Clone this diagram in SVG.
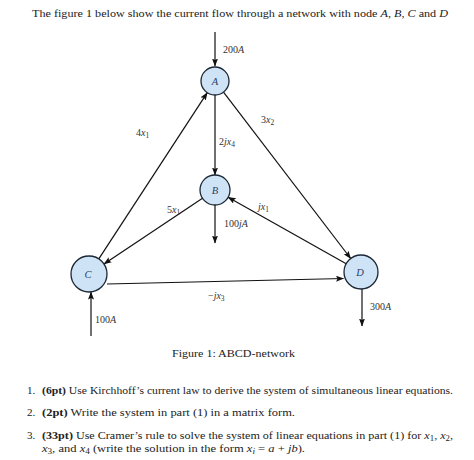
<svg xmlns="http://www.w3.org/2000/svg" width="474" height="460" viewBox="0 0 474 460">
<defs>
<marker id="ah" markerUnits="userSpaceOnUse" markerWidth="8" markerHeight="6" refX="7.5" refY="3" orient="auto">
<path d="M0,0 L8,3 L0,6 L1.5,3 z" fill="#111"/>
</marker>
<style>
.t{font-family:"Liberation Serif","Times New Roman",serif;fill:#222}
.lbl{font-family:"Liberation Serif","Times New Roman",serif;font-size:10px;fill:#333}
.i{font-style:italic}
.sub{font-size:7.5px}
.e{stroke:#111;stroke-width:1.2;fill:none;marker-end:url(#ah)}
.n{fill:#cfe3f7;stroke:#1b2733;stroke-width:1.3}
.nl{font-family:"Liberation Serif","Times New Roman",serif;font-style:italic;font-size:10.5px;fill:#2a3f66;text-anchor:middle}
</style>
</defs>
<rect width="474" height="460" fill="#fff"/>
<text class="t" x="32" y="17" font-size="11" textLength="416" lengthAdjust="spacingAndGlyphs">The figure 1 below show the current flow through a network with node <tspan class="i">A</tspan>, <tspan class="i">B</tspan>, <tspan class="i">C</tspan> and <tspan class="i">D</tspan></text>

<g id="connectors">
<line class="e" x1="215" y1="32" x2="215" y2="66"/>
<line class="e" x1="215" y1="95" x2="215" y2="175"/>
<line class="e" x1="98.8" y1="258.9" x2="207.3" y2="92.7"/>
<line class="e" x1="223.5" y1="92.1" x2="350.7" y2="258.5"/>
<line class="e" x1="202.5" y1="198.3" x2="104" y2="264"/>
<line class="e" x1="346.2" y1="263.7" x2="228.1" y2="197.3"/>
<line class="e" x1="107" y1="284" x2="343.5" y2="278.5"/>
<line class="e" x1="215" y1="205" x2="215" y2="243"/>
<line class="e" x1="91" y1="336" x2="91" y2="292"/>
<line class="e" x1="362" y1="289" x2="362" y2="326"/>
</g>

<g id="labels">
<text class="lbl" x="223" y="53">200<tspan class="i">A</tspan></text>
<text class="lbl" x="136" y="136">4<tspan class="i">x</tspan><tspan class="sub" dy="2">1</tspan></text>
<text class="lbl" x="219" y="145">2<tspan class="i">jx</tspan><tspan class="sub" dy="2">4</tspan></text>
<text class="lbl" x="261" y="123">3<tspan class="i">x</tspan><tspan class="sub" dy="2">2</tspan></text>
<text class="lbl" x="167" y="213">5<tspan class="i">x</tspan><tspan class="sub" dy="2">1</tspan></text>
<text class="lbl" x="258" y="210"><tspan class="i">jx</tspan><tspan class="sub" dy="2">1</tspan></text>
<text class="lbl" x="224" y="227">100<tspan class="i">jA</tspan></text>
<text class="lbl" x="208" y="299">−<tspan class="i">jx</tspan><tspan class="sub" dy="2">3</tspan></text>
<text class="lbl" x="95" y="323">100<tspan class="i">A</tspan></text>
<text class="lbl" x="370" y="310">300<tspan class="i">A</tspan></text>
</g>

<g id="node-A"><circle class="n" cx="215" cy="81" r="14"/><text class="nl" x="215" y="84.5">A</text></g>
<g id="node-B"><circle class="n" cx="215" cy="190" r="15"/><text class="nl" x="215" y="193.5">B</text></g>
<g id="node-C"><circle class="n" cx="89" cy="274" r="18"/><text class="nl" x="88" y="277.5">C</text></g>
<g id="node-D"><circle class="n" cx="361" cy="272" r="17"/><text class="nl" x="360" y="275.5">D</text></g>

<text class="t" x="172" y="357" font-size="11" textLength="123" lengthAdjust="spacingAndGlyphs">Figure 1: ABCD-network</text>

<text class="t" x="27" y="394" font-size="11">1.</text>
<text class="t" x="42" y="394" font-size="11" textLength="411" lengthAdjust="spacingAndGlyphs"><tspan font-weight="bold">(6pt)</tspan> Use Kirchhoff’s current law to derive the system of simultaneous linear equations.</text>
<text class="t" x="27" y="416" font-size="11">2.</text>
<text class="t" x="42" y="416" font-size="11" textLength="253" lengthAdjust="spacingAndGlyphs"><tspan font-weight="bold">(2pt)</tspan> Write the system in part (1) in a matrix form.</text>
<text class="t" x="27" y="439" font-size="11">3.</text>
<text class="t" x="42" y="439" font-size="11" textLength="411" lengthAdjust="spacingAndGlyphs"><tspan font-weight="bold">(33pt)</tspan> Use Cramer’s rule to solve the system of linear equations in part (1) for <tspan class="i">x</tspan><tspan font-size="8" dy="2">1</tspan><tspan dy="-2">, </tspan><tspan class="i">x</tspan><tspan font-size="8" dy="2">2</tspan><tspan dy="-2">,</tspan></text>
<text class="t" x="42" y="452" font-size="11" textLength="263" lengthAdjust="spacingAndGlyphs"><tspan class="i">x</tspan><tspan font-size="8" dy="2">3</tspan><tspan dy="-2">, and </tspan><tspan class="i">x</tspan><tspan font-size="8" dy="2">4</tspan><tspan dy="-2"> (write the solution in the form </tspan><tspan class="i">x</tspan><tspan font-size="8" class="i" dy="2">i</tspan><tspan dy="-2"> = </tspan><tspan class="i">a</tspan> + <tspan class="i">jb</tspan>).</text>
</svg>
